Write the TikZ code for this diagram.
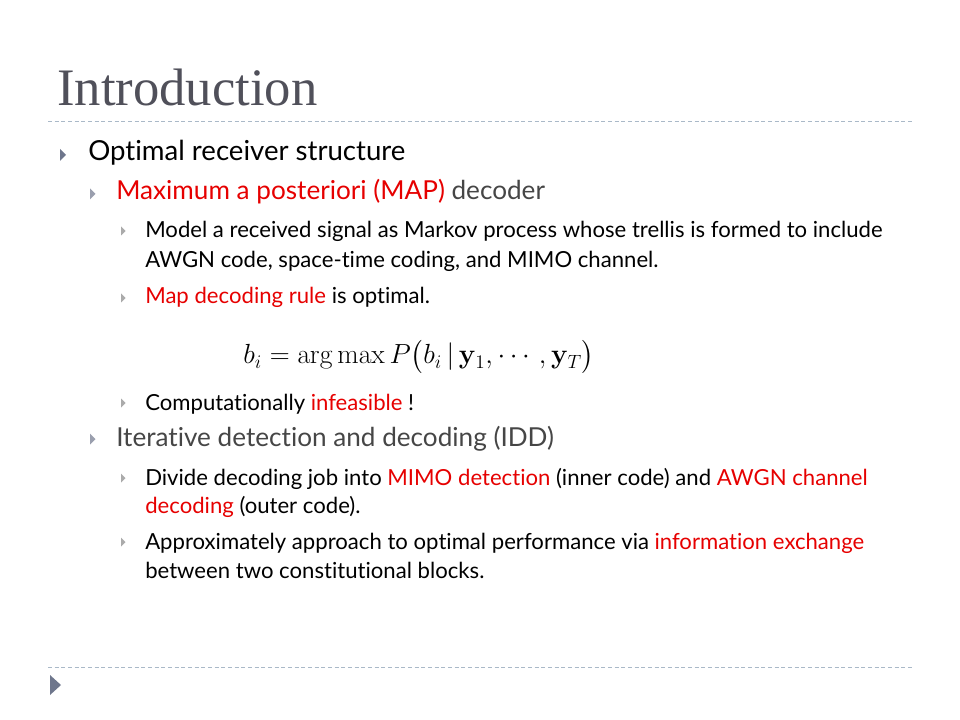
\documentclass[tikz,border=0pt]{standalone}
\usepackage{amsmath}
\usepackage[no-math]{fontspec}
\setmainfont[Ligatures=NoCommon]{Lato}
\newfontfamily\titlefont{Liberation Serif}
\definecolor{tgray}{RGB}{80,80,90}
\definecolor{bgray}{RGB}{110,118,140}
\definecolor{lgray}{RGB}{150,150,150}
\definecolor{dgray}{RGB}{70,70,70}
\definecolor{rd}{RGB}{230,0,0}
\definecolor{dline}{RGB}{170,185,200}
\begin{document}
\begin{tikzpicture}[x=0.75pt,y=-0.75pt,
  txt/.style={anchor=base west,inner sep=0pt},
  lone/.style={txt,font=\fontsize{20.7}{24}\selectfont},
  ltwo/.style={txt,font=\fontsize{19.6}{23}\selectfont,text=dgray},
  lthree/.style={txt,font=\fontsize{16.6}{20}\selectfont}]
\useasboundingbox (0,0) rectangle (960,720);
\node[txt,font=\titlefont\fontsize{39.5}{44}\selectfont,text=tgray] (title) at (57,106) {Introduction};
\draw[dline,dash pattern=on 3pt off 2pt] (48,121) -- (912,121);
\draw[dline,dash pattern=on 3pt off 2pt] (48,667) -- (912,667);
\fill[bgray] (50,675) -- (61,685) -- (50,695) -- cycle;
\foreach \y in {155} \fill[bgray] (60,\y-6) -- (66,\y) -- (60,\y+6) -- cycle;
\foreach \y in {194,439} \fill[bgray!70] (90,\y-5.5) -- (95.5,\y) -- (90,\y+5.5) -- cycle;
\foreach \y in {231,298,403,478,542} \fill[lgray!80] (121,\y-4.5) -- (125.5,\y) -- (121,\y+4.5) -- cycle;
\node[lone] (a) at (88,161) {Optimal receiver structure};
\node[ltwo] (b) at (116,200) {\textcolor{rd}{Maximum a posteriori (MAP)} decoder};
\node[lthree] (c1) at (145,238) {Model a received signal as Markov process whose trellis is formed to include};
\node[lthree] (c2) at (145,268) {AWGN code, space-time coding, and MIMO channel.};
\node[lthree] (d) at (145,304) {\textcolor{rd}{Map decoding rule} is optimal.};
\node[inner sep=0pt,font=\fontsize{21.3}{26}\selectfont] (f) at (419,357) {$b_i=\arg\max P\bigl(b_i\,|\,\mathbf{y}_1,\cdots,\mathbf{y}_T\bigr)$};
\node[lthree] (e) at (145,410) {Computationally \textcolor{rd}{infeasible} !};
\node[ltwo] (g) at (116,446) {Iterative detection and decoding (IDD)};
\node[lthree] (h1) at (145,485) {Divide decoding job into \textcolor{rd}{MIMO detection} (inner code) and \textcolor{rd}{AWGN channel}};
\node[lthree] (h2) at (145,513) {\textcolor{rd}{decoding} (outer code).};
\node[lthree] (i1) at (145,549) {Approximately approach to optimal performance via \textcolor{rd}{information exchange}};
\node[lthree] (i2) at (145,578) {between two constitutional blocks.};
\end{tikzpicture}
\end{document}
